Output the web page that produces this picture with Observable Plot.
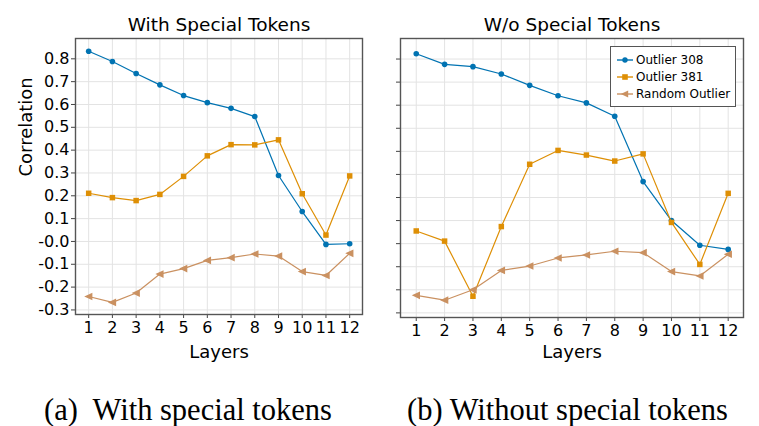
<!DOCTYPE html>
<html>
<head>
<meta charset="utf-8">
<script src="https://cdn.jsdelivr.net/npm/d3@7"></script>
<script src="https://cdn.jsdelivr.net/npm/@observablehq/plot@0.6"></script>
<style>
  html, body { margin: 0; padding: 0; background: #fff; }
  #wrap { position: relative; width: 759px; height: 426px; overflow: hidden; background: #fff; }
  .panel { position: absolute; top: 0; }
  .caption { position: absolute; top: 395px; font-family: "Liberation Serif", "Times New Roman", serif; font-size: 30.5px; line-height: 30px; white-space: pre; color: #000; transform: translateX(-50%); }
  #legend { position: absolute; left: 610px; top: 46px; width: 126px; height: 61px; border: 1.3px solid #555; background: #fff; box-sizing: border-box; font-family: "DejaVu Sans", sans-serif; font-size: 12px; color: #000; white-space: nowrap; }
  .lg { position: absolute; left: 6px; height: 17px; display: flex; align-items: center; white-space: nowrap; }
  .lg svg { margin-right: 3px; flex: none; }
</style>
</head>
<body>
<div id="wrap"></div>
<script>
// ---- data ----
const layers = [1, 2, 3, 4, 5, 6, 7, 8, 9, 10, 11, 12];
const yTicks = [-0.3, -0.2, -0.1, 0, 0.1, 0.2, 0.3, 0.4, 0.5, 0.6, 0.7, 0.8];
const seriesNames = ["Outlier 308", "Outlier 381", "Random Outlier"];
const seriesColors = ["#0173b2", "#de8f05", "#ca9161"];
const panelTitles = ["With Special Tokens", "W/o Special Tokens"];
const captions = ["(a)  With special tokens", "(b) Without special tokens"];

const withOutlier308 = [0.833, 0.788, 0.736, 0.686, 0.639, 0.608, 0.583, 0.547, 0.289, 0.131, -0.013, -0.010];
const withOutlier381 = [0.211, 0.192, 0.179, 0.206, 0.285, 0.375, 0.424, 0.423, 0.445, 0.209, 0.028, 0.287];
const withRandom     = [-0.241, -0.267, -0.226, -0.143, -0.119, -0.083, -0.071, -0.055, -0.064, -0.132, -0.149, -0.052];

const woOutlier308 = [0.823, 0.777, 0.767, 0.735, 0.686, 0.641, 0.610, 0.552, 0.269, 0.100, -0.007, -0.025];
const woOutlier381 = [0.055, 0.011, -0.228, 0.074, 0.344, 0.404, 0.384, 0.358, 0.389, 0.092, -0.090, 0.218];
const woRandom     = [-0.224, -0.245, -0.200, -0.116, -0.097, -0.062, -0.049, -0.033, -0.039, -0.121, -0.140, -0.046];

// ---- helpers ----
const leftTriangle = {
  draw(ctx, size) {
    const k = Math.sqrt(size) / 5.3;
    ctx.moveTo(-4.3 * k, 0);
    ctx.lineTo(3.6 * k, -3.7 * k);
    ctx.lineTo(3.6 * k, 3.7 * k);
    ctx.closePath();
  }
};
const symbols = ["circle", "square", leftTriangle];
const radii = [2.8, 3.1, 3.1];

function rows(vals, si) {
  return layers.map((l, i) => ({layer: l, value: vals[i], series: seriesNames[si]}));
}

function makePanel({title, data, showY, width, height, marginLeft, marginRight, marginBottom, layersDy}) {
  const fmt = d => (Math.abs(d) < 1e-9 ? "-0.0" : d.toFixed(1));
  const marks = [
    Plot.gridX(layers, {stroke: "#e3e3e3", strokeOpacity: 1, strokeWidth: 1}),
    Plot.gridY(yTicks, {stroke: "#e3e3e3", strokeOpacity: 1, strokeWidth: 1}),
    Plot.axisX(layers, {tickSize: 4, tickPadding: 3, fontSize: 16, label: null, stroke: "#444", tickFormat: d => String(d)}),
    Plot.axisY(yTicks, {tickSize: 4, tickPadding: 2, fontSize: 16, label: null, stroke: "#444", tickFormat: showY ? fmt : () => ""}),
  ];
  data.forEach((vals, si) => {
    const r = rows(vals, si);
    marks.push(Plot.line(r, {x: "layer", y: "value", stroke: seriesColors[si], strokeWidth: 1.2}));
    marks.push(Plot.dot(r, {x: "layer", y: "value", fill: seriesColors[si], stroke: "none", symbol: symbols[si], r: radii[si]}));
  });
  marks.push(Plot.frame({stroke: "#555", strokeWidth: 1.4}));
  marks.push(Plot.text([title], {frameAnchor: "top", lineAnchor: "middle", dy: -13, fontSize: 18.5, fill: "#000"}));
  marks.push(Plot.text(["Layers"], {frameAnchor: "bottom", lineAnchor: "middle", dy: layersDy, fontSize: 18, fill: "#000"}));
  if (showY) {
    marks.push(Plot.text(["Correlation"], {frameAnchor: "left", lineAnchor: "middle", dx: -49, rotate: -90, fontSize: 18, fill: "#000"}));
  }
  return Plot.plot({
    width, height, marginLeft, marginRight, marginTop: 38, marginBottom,
    x: {domain: [0.445, 12.54]},
    y: {domain: [-0.32, 0.889]},
    style: {fontFamily: "DejaVu Sans, sans-serif", fontSize: "16px", color: "#000", background: "transparent", overflow: "visible"},
    marks
  });
}

const wrap = document.getElementById("wrap");

const left = makePanel({
  title: panelTitles[0], data: [withOutlier308, withOutlier381, withRandom], showY: true,
  width: 380, height: 370, marginLeft: 75, marginRight: 18, marginBottom: 56, layersDy: 38
});
left.classList.add("panel");
left.style.left = "0px";
wrap.appendChild(left);

const right = makePanel({
  title: panelTitles[1], data: [woOutlier308, woOutlier381, woRandom], showY: false,
  width: 379, height: 370, marginLeft: 20, marginRight: 16, marginBottom: 53, layersDy: 35
});
right.classList.add("panel");
right.style.left = "380px";
wrap.appendChild(right);

// legend
const legend = document.createElement("div");
legend.id = "legend";
const markerPaths = [
  '<circle cx="8" cy="5" r="2.7"/>',
  '<rect x="5.2" y="2.2" width="5.6" height="5.6"/>',
  '<path d="M3.8,5 L11.2,1.5 L11.2,8.5 Z"/>'
];
seriesNames.forEach((name, i) => {
  const row = document.createElement("div");
  row.className = "lg";
  row.style.top = (4.5 + i * 17) + "px";
  row.innerHTML = `<svg width="16" height="10" viewBox="0 0 16 10"><line x1="0" y1="5" x2="16" y2="5" stroke="${seriesColors[i]}" stroke-width="1.4"/><g fill="${seriesColors[i]}">${markerPaths[i]}</g></svg><span>${name}</span>`;
  legend.appendChild(row);
});
wrap.appendChild(legend);

// captions
[188, 567.5].forEach((cx, i) => {
  const c = document.createElement("div");
  c.className = "caption";
  c.style.left = cx + "px";
  c.textContent = captions[i];
  wrap.appendChild(c);
});
</script>
</body>
</html>
